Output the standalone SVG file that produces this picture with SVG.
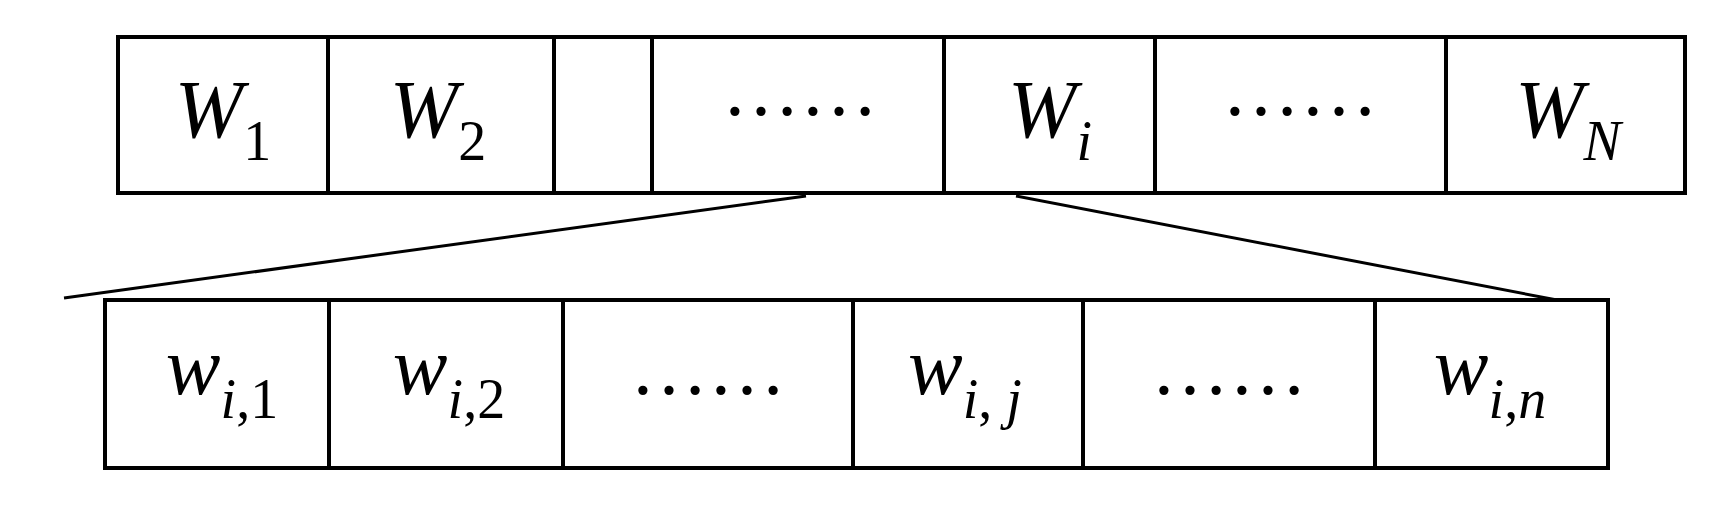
<svg xmlns="http://www.w3.org/2000/svg" width="1731" height="508" viewBox="0 0 1731 508">
<style>
rect{fill:none;stroke:#000;stroke-width:4}
.d{stroke:#000;stroke-width:4}
.c{stroke:#000;stroke-width:3;fill:none}
text{font-family:"Liberation Serif",serif;font-style:italic;font-size:82px;text-anchor:middle;fill:#000}
.s{font-size:56px;font-style:normal}
.si{font-size:56px}
.dot{font-style:normal;font-size:78px}
</style>
<rect x="0" y="0" width="1731" height="508" style="fill:#fff;stroke:none"/>
<g id="top">
<rect x="118" y="37" width="1567" height="156"/>
<line class="d" x1="328" y1="37" x2="328" y2="193"/>
<line class="d" x1="554" y1="37" x2="554" y2="193"/>
<line class="d" x1="652" y1="37" x2="652" y2="193"/>
<line class="d" x1="944" y1="37" x2="944" y2="193"/>
<line class="d" x1="1155" y1="37" x2="1155" y2="193"/>
<line class="d" x1="1446" y1="37" x2="1446" y2="193"/>
</g>
<g id="W1"><text x="223" y="137">W<tspan class="s" dy="23">1</tspan></text></g>
<g id="W2"><text x="438" y="137">W<tspan class="s" dy="23">2</tspan></text></g>
<g id="dots1"><text class="dot" x="800" y="115">……</text></g>
<g id="Wi"><text x="1050" y="137">W<tspan class="si" dy="23">i</tspan></text></g>
<g id="dots2"><text class="dot" x="1300" y="115">……</text></g>
<g id="WN"><text x="1568" y="137">W<tspan class="si" dy="23">N</tspan></text></g>
<g id="bottom">
<rect x="105" y="300" width="1503" height="168"/>
<line class="d" x1="329" y1="300" x2="329" y2="468"/>
<line class="d" x1="563" y1="300" x2="563" y2="468"/>
<line class="d" x1="853" y1="300" x2="853" y2="468"/>
<line class="d" x1="1083" y1="300" x2="1083" y2="468"/>
<line class="d" x1="1375" y1="300" x2="1375" y2="468"/>
</g>
<g id="wi1"><text x="222" y="394">w<tspan class="si" dy="24">i</tspan><tspan class="s">,1</tspan></text></g>
<g id="wi2"><text x="449" y="394">w<tspan class="si" dy="24">i</tspan><tspan class="s">,2</tspan></text></g>
<g id="dots3"><text class="dot" x="708" y="394">……</text></g>
<g id="wij"><text x="965" y="394">w<tspan class="si" dy="24">i</tspan><tspan class="s">, </tspan><tspan class="si">j</tspan></text></g>
<g id="dots4"><text class="dot" x="1229" y="394">……</text></g>
<g id="win"><text x="1490" y="394">w<tspan class="si" dy="24">i</tspan><tspan class="s">,</tspan><tspan class="si">n</tspan></text></g>
<g id="connectors">
<line class="c" x1="806" y1="196" x2="64" y2="298"/>
<line class="c" x1="1016" y1="196" x2="1557" y2="300"/>
</g>
</svg>
